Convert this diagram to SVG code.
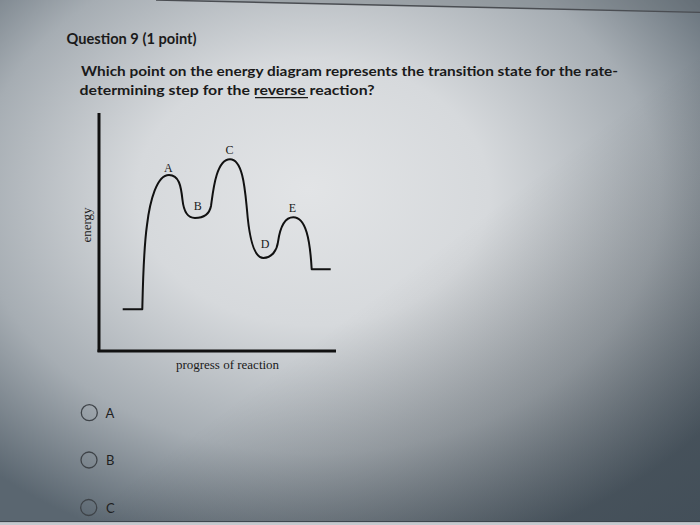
<svg xmlns="http://www.w3.org/2000/svg" width="700" height="525" viewBox="0 0 700 525">
  <defs>
    <radialGradient id="bg" cx="0.46" cy="0.38" r="0.7" fx="0.44" fy="0.36">
      <stop offset="0" stop-color="#e2e4e6"/>
      <stop offset="0.36" stop-color="#d6d9dc"/>
      <stop offset="0.7" stop-color="#a6adb3"/>
      <stop offset="1" stop-color="#5a6670"/>
    </radialGradient>
    <linearGradient id="shade" x1="0" y1="0" x2="1" y2="1">
      <stop offset="0" stop-color="#000" stop-opacity="0"/>
      <stop offset="0.55" stop-color="#000" stop-opacity="0"/>
      <stop offset="1" stop-color="#1e2a34" stop-opacity="0.38"/>
    </linearGradient>
    <style>
      .q { font-family: Lato, "Open Sans", "Liberation Sans", sans-serif; fill: #1a1a1a; }
      .lbl { font-family: "Liberation Serif", "DejaVu Serif", serif; fill: #1a1a1a; }
      .axis { stroke: #111; stroke-width: 3; fill: none; }
      .curve { stroke: #111; stroke-width: 2; fill: none; stroke-linejoin: round; }
      .radio { fill: none; stroke: #3e4348; stroke-width: 1.3; }
      .opt { font-family: Lato, "Open Sans", "Liberation Sans", sans-serif; font-size: 13px; fill: #1e1e1e; }
    </style>
  </defs>

  <!-- background (photographed screen) -->
  <rect x="0" y="0" width="700" height="525" fill="url(#bg)"/>
  <rect x="0" y="0" width="700" height="525" fill="url(#shade)"/>
  <polygon points="156,0 700,0 700,12.4" fill="#5e666e" opacity="0.35"/>
  <line x1="156" y1="0" x2="700" y2="12.4" stroke="#4a4d52" stroke-width="1.4"/>
  <rect x="0" y="522" width="700" height="3" fill="#c4c9ce"/>
  <line x1="0" y1="521.6" x2="700" y2="521.6" stroke="#3a4249" stroke-width="1"/>

  <!-- question text -->
  <g id="question">
    <text class="q" x="66.5" y="44" font-size="15" font-weight="bold" textLength="130" lengthAdjust="spacingAndGlyphs">Question 9 (1 point)</text>
    <text class="q" x="81" y="76" font-size="14" font-weight="bold" textLength="537" lengthAdjust="spacingAndGlyphs">Which point on the energy diagram represents the transition state for the rate-</text>
    <text class="q" x="79.5" y="94.5" font-size="14" font-weight="bold" textLength="295" lengthAdjust="spacingAndGlyphs">determining step for the reverse reaction?</text>
    <line x1="255" y1="97.6" x2="308" y2="97.6" stroke="#1a1a1a" stroke-width="1.3"/>
  </g>

  <!-- energy diagram -->
  <g id="diagram">
    <g id="axes">
      <line class="axis" x1="99" y1="113" x2="99" y2="352"/>
      <line class="axis" x1="97.5" y1="351" x2="336" y2="351"/>
    </g>
    <path id="curve" class="curve" d="M122.7,309.3 H142.3 C143,280 143.5,250 147,225 C150,200 157,175 169,175 C179,175 181,186 182.5,200 C184,214 189,218 195,218 C202,218 209,216 211,206 C213,192 216,159.3 230,159.3 C243,159.3 245,190 247,210 C249,235 253,258 263.3,258 C272,258 277,250 278,242 C280,228 284,217.3 293.3,217.3 C306,217.3 310,240 311.7,269.3 H330.7"/>
    <g id="points" font-size="12" text-anchor="middle">
      <text class="lbl" x="168.3" y="171.5">A</text>
      <text class="lbl" x="197.7" y="210">B</text>
      <text class="lbl" x="229.5" y="154">C</text>
      <text class="lbl" x="265" y="248">D</text>
      <text class="lbl" x="292.3" y="212.3">E</text>
    </g>
    <text class="lbl" font-size="13" text-anchor="middle" transform="translate(90.5,225) rotate(-90)">energy</text>
    <text class="lbl" font-size="13" text-anchor="middle" x="227.5" y="368.5">progress of reaction</text>
  </g>

  <!-- answer options -->
  <g id="optA">
    <circle class="radio" cx="89.3" cy="412.7" r="8"/>
    <text class="opt" x="105.5" y="417.5">A</text>
  </g>
  <g id="optB">
    <circle class="radio" cx="89" cy="460" r="8"/>
    <text class="opt" x="106" y="465">B</text>
  </g>
  <g id="optC">
    <circle class="radio" cx="88.7" cy="507.5" r="8"/>
    <text class="opt" x="106" y="512.5">C</text>
  </g>
</svg>
